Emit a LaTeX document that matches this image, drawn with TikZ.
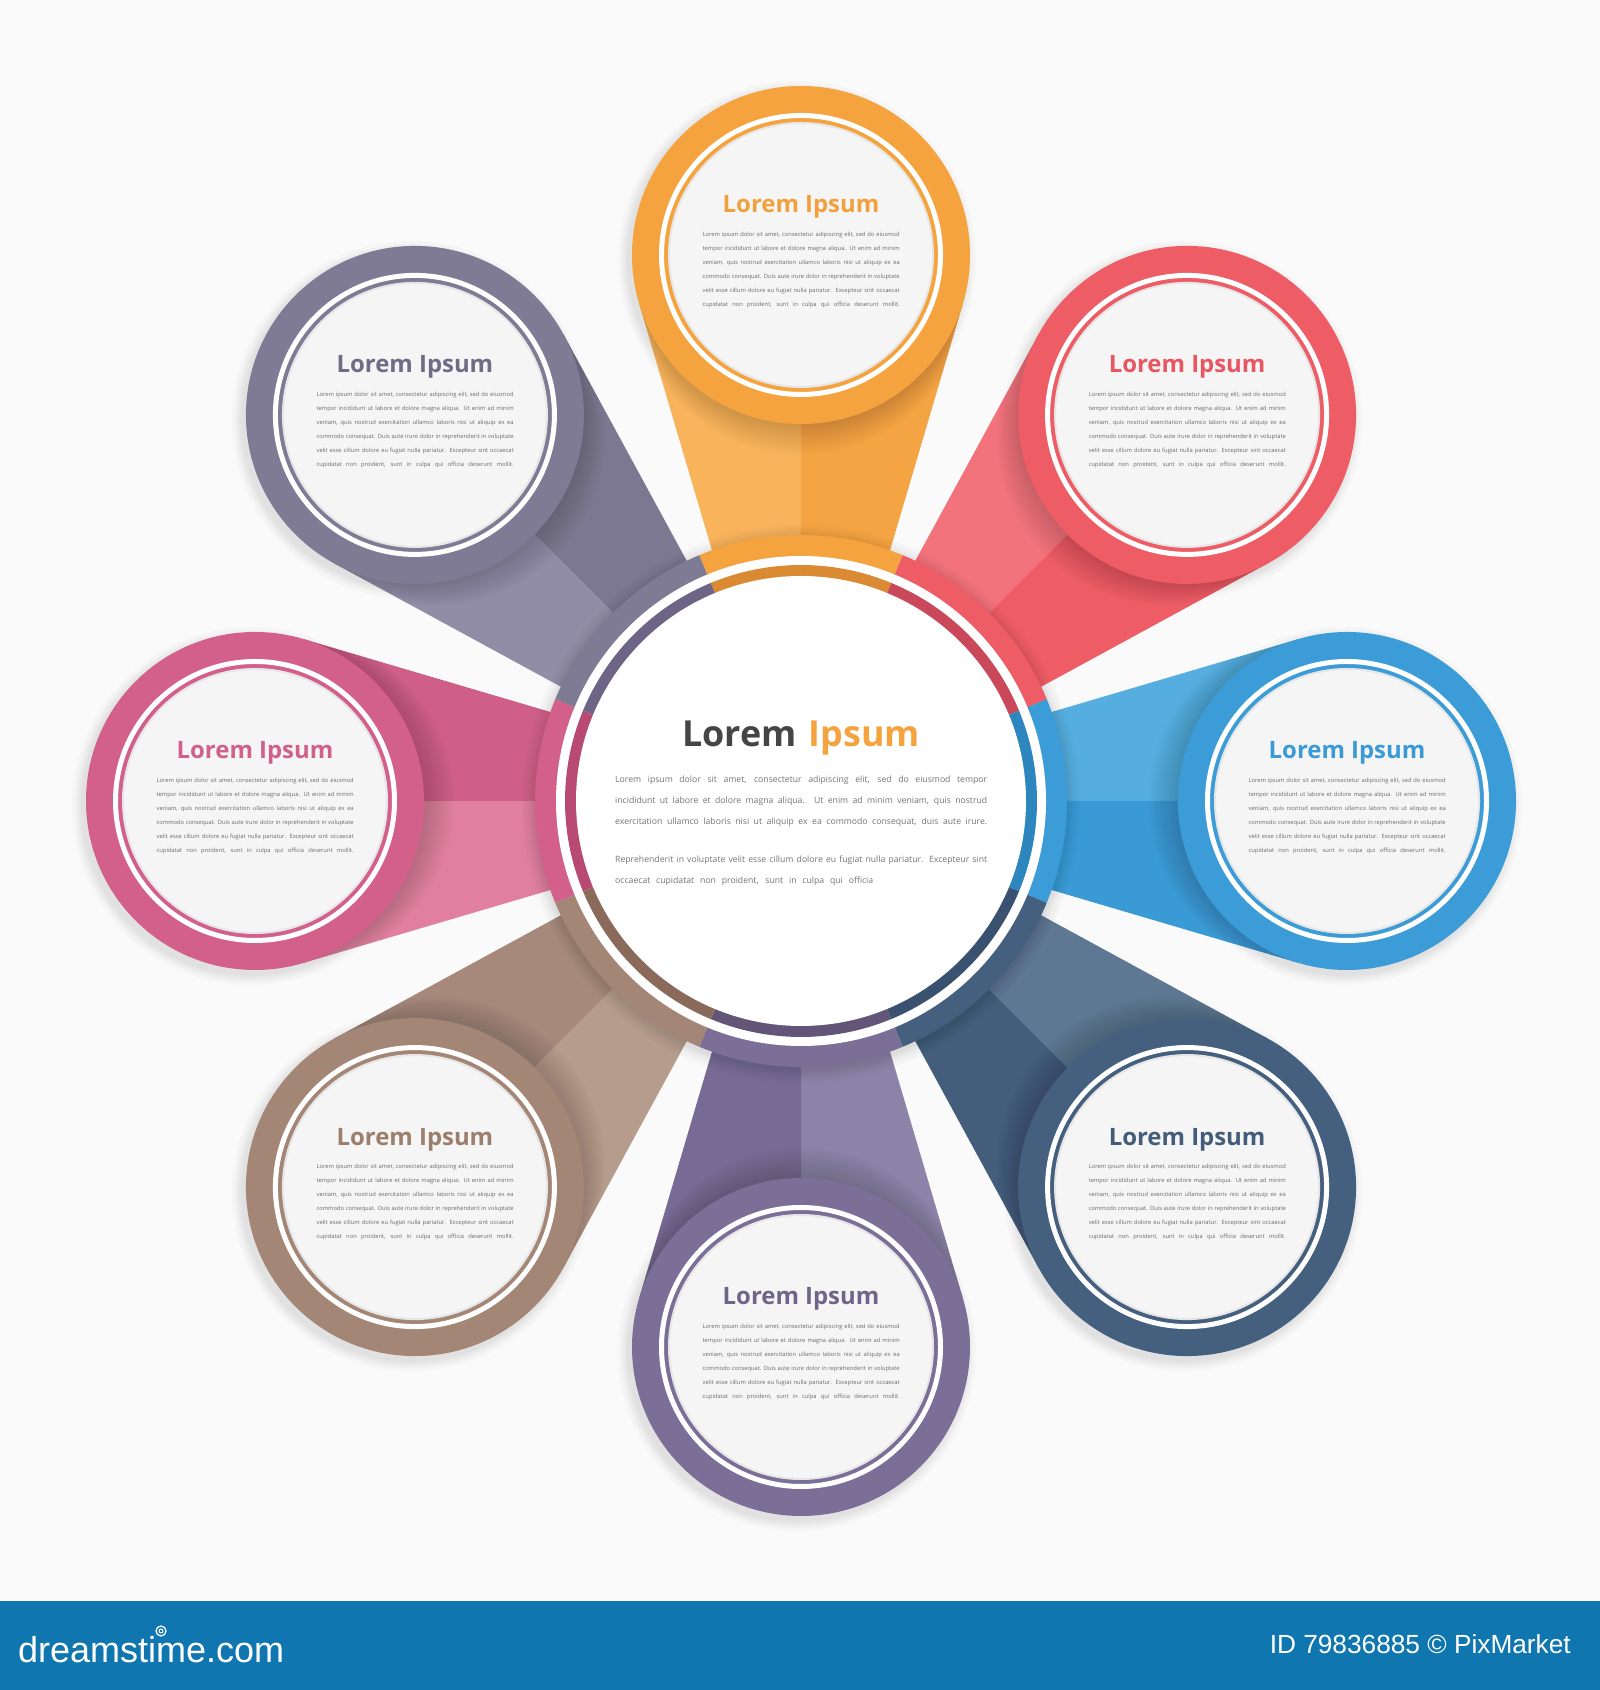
\documentclass[tikz,border=0pt]{standalone}
\usepackage{fontspec}
\setmainfont{Open Sans}
\newfontfamily\banfont{Liberation Sans}
\usepackage{graphicx}
\usetikzlibrary{calc}
\definecolor{bgc}{HTML}{FAFAFA}
\definecolor{bannerc}{HTML}{0F76B0}
\definecolor{diskc}{HTML}{F5F5F5}
\definecolor{bodyc}{HTML}{6A6A6A}
\definecolor{cbodyc}{HTML}{747474}
\definecolor{darkt}{HTML}{454545}
% 1 orange (90)
\definecolor{band1}{HTML}{F5A33F}\definecolor{light1}{HTML}{F8B35B}\definecolor{dark1}{HTML}{F5A443}\definecolor{thin1}{HTML}{D98A33}\definecolor{title1}{HTML}{F2A03D}
% 2 red (45)
\definecolor{band2}{HTML}{EE5C66}\definecolor{light2}{HTML}{F2737B}\definecolor{dark2}{HTML}{EE5C65}\definecolor{thin2}{HTML}{C9495A}\definecolor{title2}{HTML}{E85662}
% 3 blue (0)
\definecolor{band3}{HTML}{3C9CD7}\definecolor{light3}{HTML}{56AEE0}\definecolor{dark3}{HTML}{3A9AD5}\definecolor{thin3}{HTML}{2E86BF}\definecolor{title3}{HTML}{3A9AD6}
% 4 navy (-45)
\definecolor{band4}{HTML}{45607F}\definecolor{light4}{HTML}{5E7793}\definecolor{dark4}{HTML}{435D7B}\definecolor{thin4}{HTML}{3A5270}\definecolor{title4}{HTML}{435C7A}
% 5 purple (-90)
\definecolor{band5}{HTML}{7B6F97}\definecolor{light5}{HTML}{8D83A8}\definecolor{dark5}{HTML}{776B96}\definecolor{thin5}{HTML}{625578}\definecolor{title5}{HTML}{6F6489}
% 6 brown (-135)
\definecolor{band6}{HTML}{A48676}\definecolor{light6}{HTML}{B69C8C}\definecolor{dark6}{HTML}{A6897A}\definecolor{thin6}{HTML}{8A6B5B}\definecolor{title6}{HTML}{9C7E6D}
% 7 pink (180)
\definecolor{band7}{HTML}{D3608A}\definecolor{light7}{HTML}{E07FA0}\definecolor{dark7}{HTML}{CF5F87}\definecolor{thin7}{HTML}{B84A72}\definecolor{title7}{HTML}{D1618A}
% 8 grey purple (135)
\definecolor{band8}{HTML}{7F7B95}\definecolor{light8}{HTML}{918DA7}\definecolor{dark8}{HTML}{7C7891}\definecolor{thin8}{HTML}{6E6485}\definecolor{title8}{HTML}{6F6C86}

\newcommand\outerbody{\vtop{\baselineskip=14bp\lineskiplimit=-100bp
\hbox to 197bp{Lorem ipsum dolor sit amet, consectetur adipiscing elit, sed do eiusmod}
\hbox to 197bp{tempor incididunt ut labore et dolore magna aliqua. Ut enim ad minim}
\hbox to 197bp{veniam, quis nostrud exercitation ullamco laboris nisi ut aliquip ex ea}
\hbox to 197bp{commodo consequat. Duis aute irure dolor in reprehenderit in voluptate}
\hbox to 197bp{velit esse cillum dolore eu fugiat nulla pariatur. Excepteur sint occaecat}
\hbox to 197bp{cupidatat non proident, sunt in culpa qui officia deserunt mollit.}}}

\newcommand\centerbodyA{\vtop{\baselineskip=21bp\lineskiplimit=-100bp
\hbox to 372bp{Lorem ipsum dolor sit amet, consectetur adipiscing elit, sed do eiusmod tempor}
\hbox to 372bp{incididunt ut labore et dolore magna aliqua. Ut enim ad minim veniam, quis nostrud}
\hbox to 372bp{exercitation ullamco laboris nisi ut aliquip ex ea commodo consequat, duis aute irure.}}}
\newcommand\centerbodyB{\vtop{\baselineskip=21bp\lineskiplimit=-100bp
\hbox to 372bp{Reprehenderit in voluptate velit esse cillum dolore eu fugiat nulla pariatur. Excepteur sint}
\hbox to 258bp{occaecat cupidatat non proident, sunt in culpa qui officia}}}

\tikzset{
  titlef/.style={anchor=base, inner sep=0pt, font=\bfseries\fontsize{24}{24}\selectfont},
  bodyf/.style={anchor=base west, inner sep=0pt, text=bodyc, font=\fontsize{5.8}{14}\selectfont},
  cbodyf/.style={anchor=base west, inner sep=0pt, text=cbodyc, font=\fontsize{8.7}{21}\selectfont},
  softshadow/.style={black, opacity=0.018}
}

\begin{document}
\begin{tikzpicture}[x=1bp,y=1bp]
\useasboundingbox (0,0) rectangle (1600,1690);
\fill[bgc] (0,0) rectangle (1600,1690);
\coordinate (O) at (801,889);

% drop shadows of outer circles
\foreach \i/\a in {1/90,2/45,3/0,4/-45,5/-90,6/-135,7/180,8/135}{
  \foreach \r in {170,172,174,176,179}{
    \fill[softshadow] ($(O)+(\a:546)+(-4,-5)$) circle[radius=\r];
  }
}

% petals
\foreach \i/\a in {1/90,2/45,3/0,4/-45,5/-90,6/-135,7/180,8/135}{
  \coordinate (c\i) at ($(O)+(\a:546)$);
  \coordinate (p\i) at ($(O)+(\a:-51)$);
  \coordinate (ta\i) at ($(c\i)+(\a+106.5:169)$);
  \coordinate (tb\i) at ($(c\i)+(\a-106.5:169)$);
  \fill[light\i] (p\i) -- (ta\i) -- (c\i) -- cycle;
  \fill[dark\i] (p\i) -- (tb\i) -- (c\i) -- cycle;
  \begin{scope}
    \clip (p\i) -- (ta\i) -- (c\i) -- (tb\i) -- cycle;
    \foreach \k in {3,6,9,12,15,18,21,24,27,30}{
      \fill[black,opacity=0.016] ($(c\i)+(\a:-\k)$) circle[radius=169];
    }
  \end{scope}
  \fill[band\i] (c\i) circle[radius=169];
  \draw[white, line width=5bp] (c\i) circle[radius=139.5];
  \fill[diskc] (c\i) circle[radius=133];
  \draw[black, opacity=0.06, line width=2bp] (c\i) circle[radius=132];
  \node[titlef, text=title\i] (t\i) at ($(c\i)+(0,42)$) {Lorem Ipsum};
  \node[bodyf] (b\i) at ($(c\i)+(-98.5,18.5)$) {\outerbody};
}

% center ring
\foreach \r in {267,269,271,273,276,279}{
  \fill[softshadow] ($(O)+(0,-3)$) circle[radius=\r];
}
\foreach \i/\a in {1/90,2/45,3/0,4/-45,5/-90,6/-135,7/180,8/135}{
  \fill[band\i] (O) -- ($(O)+(\a-22.5:266)$) arc[start angle=\a-22.5, end angle=\a+22.5, radius=266] -- cycle;
}
\fill[white] (O) circle[radius=245];
\foreach \i/\a in {1/90,2/45,3/0,4/-45,5/-90,6/-135,7/180,8/135}{
  \fill[thin\i] (O) -- ($(O)+(\a-22.5:236)$) arc[start angle=\a-22.5, end angle=\a+22.5, radius=236] -- cycle;
}
\fill[white] (O) circle[radius=225];

\node[anchor=base, inner sep=0pt, font=\bfseries\fontsize{36}{36}\selectfont] (ctitle) at ($(O)+(0,54)$)
  {\textcolor{darkt}{Lorem}\hspace{12bp}\textcolor{band1}{Ipsum}};
\node[cbodyf] (cb1) at ($(O)+(-186,18)$) {\centerbodyA};
\node[cbodyf] (cb2) at ($(O)+(-186,-62)$) {\centerbodyB};

% banner
\fill[bannerc] (0,0) rectangle (1600,89);
\node[anchor=base west, inner sep=0pt, text=white] (logo) at (18,27)
  {\resizebox{266bp}{!}{\banfont dreamstime.com}};
\draw[white, line width=1.2bp] (161,59) circle[radius=5];
\draw[white, line width=1bp] (161,59) circle[radius=2];
\node[anchor=base east, inner sep=0pt, text=white] (imgid) at (1571,36)
  {\resizebox{301bp}{!}{\banfont ID 79836885 \textcopyright{} PixMarket}};
\end{tikzpicture}
\end{document}
